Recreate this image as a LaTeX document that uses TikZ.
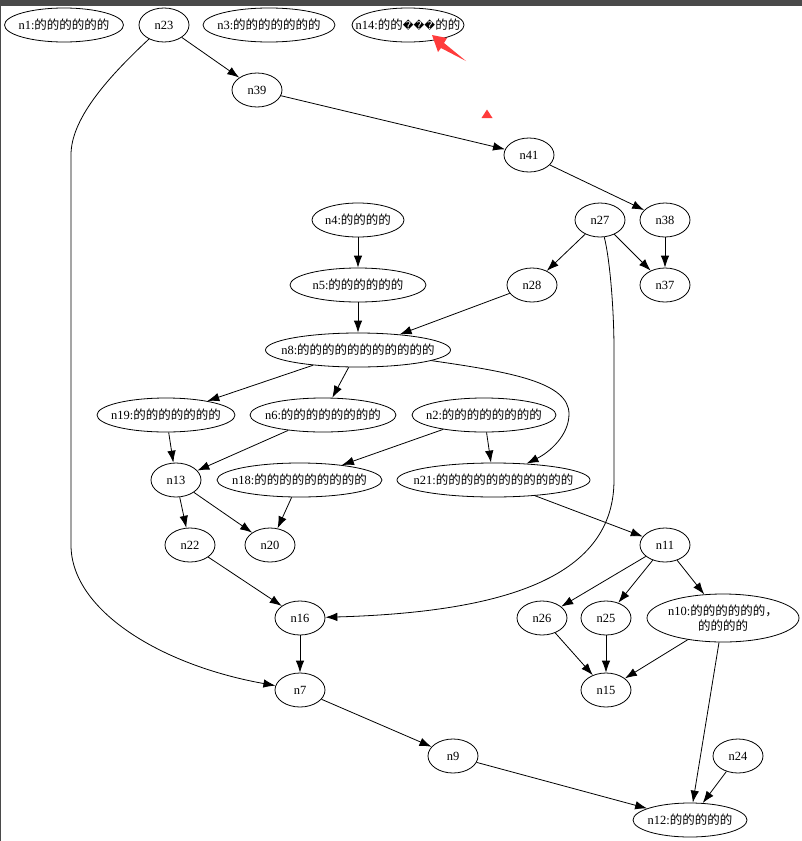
\documentclass[tikz,border=0pt]{standalone}
\usepackage{fontspec}
\setmainfont{Liberation Serif}
\newfontfamily\cjk{Noto Sans CJK SC}
\newfontfamily\dejavu{DejaVu Sans}
\usetikzlibrary{shapes.geometric, arrows.meta}
\definecolor{markred}{HTML}{FF3B3B}
\definecolor{bargray}{HTML}{4A4A4A}
\newcommand{\lbl}[2]{\makebox[0pt]{#1:{\cjk\fontsize{12.5}{14}\selectfont #2}}}

\begin{document}
\begin{tikzpicture}[x=1pt, y=-1pt,
    main/.style = {draw, ellipse, line width=0.8pt, inner sep=0pt, minimum width=50pt, minimum height=34pt, font=\fontsize{12.5}{14}\selectfont},
    link/.style = {-{Latex[length=12pt, width=8.5pt]}, line width=0.8pt}]
    \useasboundingbox (0,0) rectangle (802,841);
    \fill[bargray] (0,0) rectangle (802,6);
    \fill[bargray] (0,0) rectangle (1.2,841);

    \node[main, minimum width=119pt] at (64,25) (n1) {\lbl{n1}{的的的的的的}};
    \node[main] at (164,25) (n23) {n23};
    \node[main, minimum width=132pt] at (269,25) (n3) {\lbl{n3}{的的的的的的的}};
    \node[main, minimum width=112pt] at (408,25) (n14) {\makebox[0pt]{n14:{\cjk\fontsize{12.5}{14}\selectfont 的的}{\dejavu\fontsize{10.5}{14}\selectfont ���}{\cjk\fontsize{12.5}{14}\selectfont 的的}}};
    \node[main] at (257,90) (n39) {n39};
    \node[main] at (529,155) (n41) {n41};
    \node[main] at (600,220) (n27) {n27};
    \node[main] at (665,220) (n38) {n38};
    \node[main, minimum width=92pt] at (358,220) (n4) {\lbl{n4}{的的的的}};
    \node[main] at (532,285) (n28) {n28};
    \node[main] at (665,285) (n37) {n37};
    \node[main, minimum width=136pt] at (358,285) (n5) {\lbl{n5}{的的的的的的}};
    \node[main, minimum width=185pt] at (358,350) (n8) {\lbl{n8}{的的的的的的的的的的的}};
    \node[main, minimum width=138pt] at (166,415) (n19) {\lbl{n19}{的的的的的的的}};
    \node[main, minimum width=146pt] at (323,415) (n6) {\lbl{n6}{的的的的的的的的}};
    \node[main, minimum width=144pt] at (484,415) (n2) {\lbl{n2}{的的的的的的的的}};
    \node[main] at (176,480) (n13) {n13};
    \node[main, minimum width=165pt] at (299.5,480) (n18) {\lbl{n18}{的的的的的的的的的}};
    \node[main, minimum width=193pt] at (493.5,480) (n21) {\lbl{n21}{的的的的的的的的的的的}};
    \node[main] at (190,545) (n22) {n22};
    \node[main] at (270,545) (n20) {n20};
    \node[main] at (665,545) (n11) {n11};
    \node[main] at (300,618) (n16) {n16};
    \node[main] at (542,618) (n26) {n26};
    \node[main] at (606,618) (n25) {n25};
    \node[main, minimum width=152pt, minimum height=48pt] at (723,618) (n10) {\makebox[0pt]{\shortstack{n10:{\cjk\fontsize{12.5}{14}\selectfont 的的的的的的，}\\{\cjk\fontsize{12.5}{14}\selectfont 的的的的}}}};
    \node[main] at (300,690) (n7) {n7};
    \node[main] at (606,690) (n15) {n15};
    \node[main] at (453,756) (n9) {n9};
    \node[main] at (738,756) (n24) {n24};
    \node[main, minimum width=114pt] at (690,820) (n12) {\lbl{n12}{的的的的的}};

    \draw [link] (n23) -- (n39);
    \draw [link] (n39) -- (n41);
    \draw [link] (n41) -- (n38);
    \draw [link] (n38) -- (n37);
    \draw [link] (n27) -- (n37);
    \draw [link] (n27) -- (n28);
    \draw [link] (n4) -- (n5);
    \draw [link] (n5) -- (n8);
    \draw [link] (n28) -- (n8);
    \draw [link] (n8) -- (n19);
    \draw [link] (n8) -- (n6);
    \draw [link] (n19) -- (n13);
    \draw [link] (n6) -- (n13);
    \draw [link] (n2) -- (n18);
    \draw [link] (n2) -- (n21);
    \draw [link] (n13) -- (n22);
    \draw [link] (n13) -- (n20);
    \draw [link] (n18) -- (n20);
    \draw [link] (n22) -- (n16);
    \draw [link] (n16) -- (n7);
    \draw [link] (n7) -- (n9);
    \draw [link] (n9) -- (n12);
    \draw [link] (n21) -- (n11);
    \draw [link] (n11) -- (n26);
    \draw [link] (n11) -- (n25);
    \draw [link] (n11) -- (n10);
    \draw [link] (n26) -- (n15);
    \draw [link] (n25) -- (n15);
    \draw [link] (n10) -- (n15);
    \draw [link] (n10) -- (n12);
    \draw [link] (n24) -- (n12);

    \draw [link] (n23) .. controls (105,80) and (71,120) .. (71,155) -- (71,545) .. controls (71,610) and (160,665) .. (n7);
    \draw [link] (n27) .. controls (610,260) and (614,310) .. (614,350) -- (614,480) .. controls (614,575) and (510,612) .. (n16);
    \draw [link] (n8) .. controls (510,372) and (569,382) .. (569,414) .. controls (569,435) and (550,452) .. (n21);

    \fill[markred] (432,35) -- (447,38) -- (444,43) -- (466,61) -- (441,48) -- (438,52) -- cycle;
    \fill[markred] (487,109.5) -- (481.5,118) -- (492.5,118) -- cycle;
\end{tikzpicture}
\end{document}
